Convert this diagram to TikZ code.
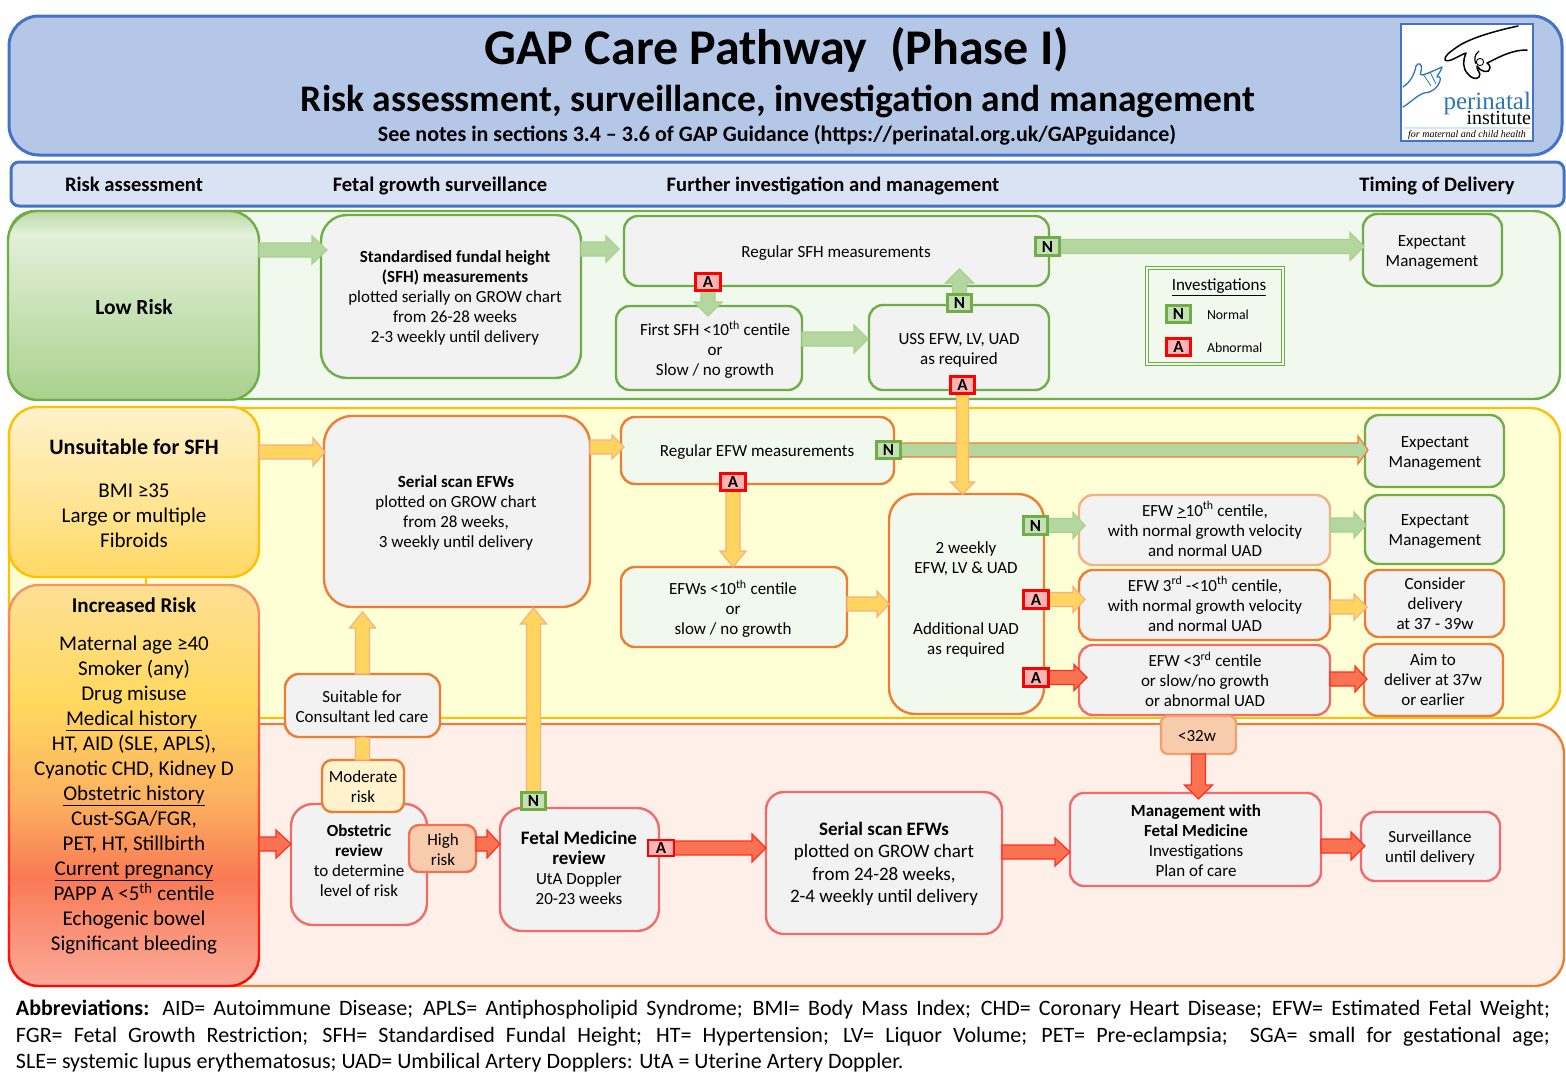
\documentclass[tikz,border=0pt]{standalone}
\usepackage{fontspec}
\setmainfont{Carlito}
\newfontfamily\logofont{Liberation Serif}
\usetikzlibrary{calc}
\pgfdeclarelayer{tagsLayer}
\pgfsetlayers{main,tagsLayer}
\definecolor{cBlue}{HTML}{4472C4}
\definecolor{cTitle}{HTML}{B4C7E7}
\definecolor{cHead}{HTML}{DAE3F3}
\definecolor{cGreen}{HTML}{70AD47}
\definecolor{cOrange}{HTML}{ED7D31}
\definecolor{cGold}{HTML}{FFC000}
\definecolor{cRose}{HTML}{F26B6B}
\definecolor{cPeach}{HTML}{F4B183}
\definecolor{cBoxGrey}{HTML}{F2F2F2}
\definecolor{cPaleGreen}{HTML}{F1F9EF}
\definecolor{cPaleYellow}{HTML}{FFFFD5}
\definecolor{cPaleOrange}{HTML}{FEF0E8}
\definecolor{cTagG}{HTML}{C5E0B4}
\definecolor{cTagR}{HTML}{FFB3B3}
\definecolor{cArrG}{HTML}{B4D7A0}
\definecolor{cArrGl}{HTML}{A9D18E}
\definecolor{cArrY}{HTML}{FFD55F}
\definecolor{cArrR}{HTML}{F97352}
\definecolor{cArrRl}{HTML}{FF3020}
\definecolor{cLogoBlue}{HTML}{2E75B6}
\definecolor{cModerate}{HTML}{FFF2CC}
\definecolor{cHigh}{HTML}{F8CBAD}
\definecolor{lrA}{HTML}{A9D18E}
\definecolor{lrB}{HTML}{E2F0D9}
\definecolor{lrC}{HTML}{BCD9A6}
\definecolor{usA}{HTML}{FFF2CC}
\definecolor{usB}{HTML}{FFD966}
\definecolor{irA}{HTML}{FDDF94}
\definecolor{irB}{HTML}{FFD95F}
\definecolor{irC}{HTML}{FCB060}
\definecolor{irD}{HTML}{F97A55}
\definecolor{irE}{HTML}{FBAA9A}
\definecolor{irTop}{HTML}{F89368}
\pgfdeclareverticalshading{lowriskshade}{100bp}{color(0bp)=(lrA); color(25bp)=(lrA); color(69bp)=(lrB); color(75bp)=(lrC); color(100bp)=(lrC)}
\pgfdeclareverticalshading{unsuitshade}{100bp}{color(0bp)=(usB); color(25bp)=(usB); color(75bp)=(usA); color(100bp)=(usA)}
\pgfdeclareverticalshading{incrshade}{100bp}{color(0bp)=(irE); color(25bp)=(irE); color(38.5bp)=(irD); color(48bp)=(irC); color(60.5bp)=(irB); color(75bp)=(irA); color(100bp)=(irA)}
\tikzset{
  x=1pt,y=-1pt,
  base/.style={draw,line width=2.4pt,inner sep=0pt,outer sep=0pt,rectangle},
  panel/.style={base,rounded corners=28pt},
  gbox/.style={base,fill=cBoxGrey,draw=cGreen,rounded corners=14pt},
  obox/.style={base,fill=cBoxGrey,draw=cOrange,rounded corners=14pt},
  rbox/.style={base,fill=cBoxGrey,draw=cRose,rounded corners=14pt},
  pobox/.style={base,fill=cPaleGreen,draw=cOrange,rounded corners=14pt},
  lab/.style={inner sep=0pt,outer sep=0pt,align=center,text=black,font=\lfont},
  tagbase/.style={draw,line width=2.6pt,minimum width=24.5pt,minimum height=17.5pt,inner sep=0pt,outer sep=0pt,font=\fontsize{17}{18}\selectfont\bfseries},
  ntag/.style={tagbase,draw=cGreen,fill=cTagG},
  atag/.style={tagbase,draw=red,fill=cTagR},
  ag/.style={draw=cArrGl,fill=cArrG,line width=1.2pt,line join=miter},
  ago/.style={draw=cOrange,fill=cArrG,line width=1.2pt,line join=miter},
  ay/.style={draw=cPeach,fill=cArrY,line width=1.2pt,line join=miter},
  ar/.style={draw=cArrRl,fill=cArrR,line width=1.2pt,line join=miter},
  plain/.style={inner sep=0pt,outer sep=0pt,align=center},
  hd/.style={plain,anchor=base,font=\fontsize{20.6}{23}\selectfont\bfseries},
}
\newcommand{\lfont}{\fontsize{17}{20}\selectfont}
\newcommand{\setlf}[2]{\renewcommand{\lfont}{\fontsize{#1}{#2}\selectfont}}
% box: style, name, (x1,y1)(x2,y2)(text cx,text cy){text}
\def\bx#1#2(#3,#4)(#5,#6)(#7,#8)#9{%
  \pgfmathsetmacro\bw{#5-#3}\pgfmathsetmacro\bh{#6-#4}%
  \pgfmathsetmacro\bcx{(#3+#5)/2}\pgfmathsetmacro\bcy{(#4+#6)/2}%
  \pgfmathsetmacro\bdx{#7-\bcx}\pgfmathsetmacro\bdy{\bcy-#8}%
  \node[#1,minimum width=\bw pt,minimum height=\bh pt,
    label={[lab,xshift=\bdx pt,yshift=\bdy pt]center:{#9}}] (#2) at (\bcx,\bcy) {};}
% block arrow: style, from, to, half shaft, half head, head length
\newcommand{\ba}[6]{%
  \coordinate (baS) at (#2); \coordinate (baT) at (#3);
  \coordinate (baN) at ($(baT)!#6pt!(baS)$);
  \draw[#1] ($(baS)!#4pt!90:(baT)$) -- ($(baN)!#4pt!90:(baT)$) -- ($(baN)!#5pt!90:(baT)$)
    -- (baT) -- ($(baN)!#5pt!-90:(baT)$) -- ($(baN)!#4pt!-90:(baT)$) -- ($(baS)!#4pt!-90:(baT)$) -- cycle;}
\begin{document}
\begin{tikzpicture}
\useasboundingbox (0,0) rectangle (1566,1087);
\fill[white] (0,0) rectangle (1566,1087);
% ---------- panels
\bx{panel,draw=cBlue,line width=3pt,fill=cTitle,rounded corners=30pt}{titlePanel}(9,16)(1562,155)(777,90){}
\bx{panel,draw=cBlue,line width=3pt,fill=cHead,rounded corners=8pt}{headBand}(11,162)(1564,206)(777,185){}
\bx{panel,draw=cGreen,fill=cPaleGreen,rounded corners=26pt}{lowPanel}(9,211)(1560,399)(777,300){}
\bx{panel,draw=cGold,fill=cPaleYellow,rounded corners=30pt}{midPanel}(9,408)(1560,718)(777,560){}
\bx{panel,draw=cOrange,fill=cPaleOrange,rounded corners=30pt}{highPanel}(9,724)(1564,986)(777,850){}
% ---------- title
\node[plain,font=\fontsize{50}{54}\selectfont\bfseries] (title) at (777,49.5) {GAP Care Pathway\ \ (Phase I)};
\node[plain,font=\fontsize{37.5}{40}\selectfont\bfseries] (subtitle) at (778,101.5) {Risk assessment, surveillance, investigation and management};
\node[plain,font=\fontsize{22}{24}\selectfont\bfseries] (notes) at (777,135) {See notes in sections 3.4 -- 3.6 of GAP Guidance (https://perinatal.org.uk/GAPguidance)};
% ---------- logo
\node[draw=cBlue,line width=2pt,fill=white,minimum width=132pt,minimum height=117pt,inner sep=0pt,outer sep=0pt] (logo) at (1467,82.5) {};
\draw[black,line width=1.5pt,line cap=round,line join=round] (1518,26) .. controls (1495,31) and (1470,38) .. (1457,47) .. controls (1450,52) and (1444,56) .. (1445,60) .. controls (1449,63) and (1458,56) .. (1466,53) .. controls (1463,60) and (1462,68) .. (1468,74) .. controls (1471,78) and (1476,80) .. (1479,77) .. controls (1482,72) and (1476,71) .. (1477,66) .. controls (1480,72) and (1490,74) .. (1490,68) .. controls (1490,64) and (1487,64) .. (1487,63) .. controls (1498,58) and (1510,50) .. (1527,50);
\draw[black,line width=1.2pt] (1479,51) .. controls (1474,55) and (1474,60) .. (1476,64);
\draw[black,line width=.9pt] (1480,62) circle (3.6pt);
\draw[cLogoBlue,line width=1.3pt,line cap=round,line join=round] (1403,87) .. controls (1410,82) and (1414,76) .. (1416,66) .. controls (1418,62) and (1423,63) .. (1421,71) .. controls (1420,74) and (1420,75) .. (1422,75) .. controls (1430,73) and (1437,69) .. (1442,67) .. controls (1441,72) and (1437,75) .. (1437,77) .. controls (1439,76) and (1441,77) .. (1440,81) .. controls (1438,88) and (1431,93) .. (1424,93) .. controls (1416,96) and (1410,103) .. (1403,107);
\draw[cLogoBlue,line width=.8pt] (1423,74) -- (1431,86) (1430,72) -- (1436,84);
\node[plain,text=cLogoBlue,font=\logofont\fontsize{25}{26}\selectfont,anchor=base east] (logoA) at (1531,109) {perinatal};
\node[plain,font=\logofont\fontsize{20}{21}\selectfont,anchor=base east] (logoB) at (1531,124) {institute};
\draw[cHead,line width=1.5pt] (1404,128) -- (1530,128);
\node[plain,font=\logofont\itshape\fontsize{10}{11}\selectfont] (logoC) at (1467,135) {for maternal and child health};
% ---------- band headers
\node[hd] (h1) at (134,191.5) {Risk assessment};
\node[hd] (h2) at (440,191.5) {Fetal growth surveillance};
\node[hd] (h3) at (833,191.5) {Further investigation and management};
\node[hd] (h4) at (1437,191.5) {Timing of Delivery};
% ---------- risk boxes
\setlf{21.5}{24}
\bx{base,draw=cGreen,shade,shading=lowriskshade,rounded corners=30pt}{lowRisk}(8,211)(259,400)(134,307){\textbf{Low Risk}}
\setlf{21}{25}
\bx{base,draw=cGold,shade,shading=unsuitshade,rounded corners=28pt}{unsuit}(9,407)(259,577)(134,493){{\fontsize{22}{25}\selectfont\textbf{Unsuitable for SFH}}\\[18pt]BMI \symbol{"2265}35\\Large or multiple\\Fibroids}
\bx{base,draw=none,shade,shading=incrshade,rounded corners=30pt}{incr}(9,585)(259,986)(134,776){\textbf{Increased Risk}\\[13pt]Maternal age \symbol{"2265}40\\Smoker (any)\\Drug misuse\\\underline{Medical history\ }\\HT, AID (SLE, APLS),\\Cyanotic CHD, Kidney D\\\underline{Obstetric history}\\Cust-SGA/FGR,\\PET, HT, Stillbirth\\\underline{Current pregnancy}\\PAPP A <5\textsuperscript{th} centile\\Echogenic bowel\\Significant bleeding}
% outline of Increased Risk: orange at the top fading to red at the foot
\foreach \k in {0,...,26}{
  \pgfmathsetmacro\sliceY{582+\k*16}
  \pgfmathsetmacro\mixv{min(100,100*\k/26)}
  \begin{scope}
    \clip (0,\sliceY) rectangle (270,\sliceY+16.5);
    \draw[line width=2.4pt,rounded corners=30pt,draw=red!\mixv!irTop] (incr.north west) rectangle (incr.south east);
  \end{scope}
}
\draw[cGold,line width=2pt] (unsuit.south -| 146,0) -- (incr.north -| 146,0);
\setlf{17}{20}
% ---------- green row
\bx{gbox,rounded corners=26pt}{sfh}(321,215)(581,378)(455,298){\textbf{Standardised fundal height}\\\textbf{(SFH) measurements}\\plotted serially on GROW chart\\from 26-28 weeks\\2-3 weekly until delivery}
\bx{gbox}{regSFH}(624,216)(1049,286)(836,253){Regular SFH measurements}
\bx{gbox}{firstSFH}(616,306)(802,390)(715,349.5){First SFH <10\textsuperscript{th} centile\\or\\Slow / no growth}
\bx{gbox}{uss}(869,305)(1049,390)(959,350){USS EFW, LV, UAD\\as required}
\bx{gbox}{exp1}(1363,214)(1502,286)(1432,253){Expectant\\Management}
% legend
\node[draw=cGreen,line width=.8pt,double=cPaleGreen,double distance=1.6pt,minimum width=136pt,minimum height=96pt,inner sep=0pt,outer sep=0pt,fill=cPaleGreen] (legend) at (1215,316) {};
\node[plain,font=\fontsize{17}{20}\selectfont] (legT) at (1219,287) {\underline{Investigations}};
\node[plain,font=\fontsize{13.8}{15}\selectfont,anchor=west] (legNt) at (1207,314.5) {Normal};
\node[plain,font=\fontsize{13.8}{15}\selectfont,anchor=west] (legAt) at (1207,348) {Abnormal};
% ---------- yellow row
\bx{obox,rounded corners=28pt}{serialA}(324,416)(590,607)(456,513){\textbf{Serial scan EFWs}\\plotted on GROW chart\\from 28 weeks,\\3 weekly until delivery}
\bx{pobox}{regEFW}(621,417)(894,484)(757,452){Regular EFW measurements}
\bx{pobox}{efwLow}(621,567)(847,647)(733,608.5){EFWs <10\textsuperscript{th} centile\\or\\slow / no growth}
\bx{pobox,rounded corners=26pt}{twoWk}(889,494)(1044,714)(966,599){2 weekly\\EFW, LV \& UAD\\[41pt]Additional UAD\\as required}
\bx{base,fill=cBoxGrey,draw=cPeach,rounded corners=14pt}{efwA}(1079,495)(1330,565)(1205,529){EFW \underline{>}10\textsuperscript{th} centile,\\with normal growth velocity\\and normal UAD}
\bx{obox}{efwB}(1079,570)(1330,640)(1205,604){EFW 3\textsuperscript{rd} -<10\textsuperscript{th} centile,\\with normal growth velocity\\and normal UAD}
\bx{rbox}{efwC}(1079,645)(1330,715)(1205,679.5){EFW <3\textsuperscript{rd} centile\\or slow/no growth\\or abnormal UAD}
\bx{gbox}{exp2}(1365,415)(1504,487)(1435,453.5){Expectant\\Management}
\bx{gbox}{exp3}(1365,495)(1504,564)(1435,531.5){Expectant\\Management}
\bx{obox}{consider}(1365,570)(1504,637)(1435,603.5){Consider\\delivery\\at 37 - 39w}
\bx{obox}{aim}(1364,644)(1503,716)(1433,679.5){Aim to\\deliver at 37w\\or earlier}
% ---------- red row
\bx{obox}{suitable}(285,674)(440,737)(362,707){Suitable for\\Consultant led care}
\bx{rbox,rounded corners=22pt}{obst}(291,804)(427,925)(359,860.5){\textbf{Obstetric}\\\textbf{review}\\to determine\\level of risk}
\bx{obox,fill=cModerate,rounded corners=10pt}{moderate}(322,760)(404,812)(363,787){Moderate\\risk}
\bx{base,fill=cHigh,draw=cRose!60!cOrange,rounded corners=10pt}{high}(409,825)(476,872)(443,850){High\\risk}
\bx{rbox,rounded corners=22pt}{fetalM}(500,808)(659,931)(579,867.5){{\fontsize{19}{20}\selectfont\textbf{Fetal Medicine}}\\{\fontsize{19}{20}\selectfont\textbf{review}}\\UtA Doppler\\20-23 weeks}
\setlf{19}{22.4}
\bx{rbox,rounded corners=18pt}{serialB}(766,792)(1002,934)(884,864){\textbf{Serial scan EFWs}\\plotted on GROW chart\\from 24-28 weeks,\\2-4 weekly until delivery}
\setlf{17}{20}
\bx{rbox}{mgmt}(1070,793)(1321,886)(1196,840.5){\textbf{Management with}\\\textbf{Fetal Medicine}\\Investigations\\Plan of care}
\bx{rbox}{surv}(1361,812)(1500,881)(1430,847.5){Surveillance\\until delivery}
\bx{base,fill=cHigh,draw=cPeach!70!cOrange,rounded corners=7pt}{lt32}(1161,716)(1236,754)(1197,736){<32w}
% ---------- tags (top layer)
\begin{pgfonlayer}{tagsLayer}
\node[ntag] (legN) at (1178.5,314) {N};
\node[atag] (legA) at (1178.5,347) {A};
\node[atag] (tA1) at (708,282) {A};
\node[ntag] (tN1) at (959.5,303) {N};
\node[ntag] (tN2) at (1047.5,246.5) {N};
\node[atag] (tA2) at (962.5,385) {A};
\node[ntag] (tN3) at (888.5,450) {N};
\node[atag] (tA3) at (733,482) {A};
\node[ntag] (tN4) at (1035.5,525.5) {N};
\node[atag] (tA4) at (1036,599.5) {A};
\node[atag] (tA5) at (1036,677.5) {A};
\node[ntag] (tN5) at (533.5,801) {N};
\node[atag,minimum width=26pt,minimum height=16pt] (tA6) at (661,848) {A};
\end{pgfonlayer}
% ---------- connectors
\ba{ag}{lowRisk.east |- 0,250}{$(sfh.west |- 0,250)+(6,0)$}{7}{14}{15}
\ba{ag}{sfh.east |- 0,249}{$(regSFH.west |- 0,249)+(-5,0)$}{7}{13}{13}
\ba{ag}{firstSFH.east |- 0,339}{$(uss.west |- 0,339)+(-1,0)$}{7}{14}{14}
\ba{ago}{tN3.east}{$(exp2.west |- tN3.east)+(3,0)$}{7}{14}{10}
\ba{ag}{tN2.east}{$(exp1.west |- tN2.east)+(1,0)$}{7}{14}{14}
\ba{ay}{unsuit.east |- 0,452}{$(serialA.west |- 0,452)+(1,0)$}{7}{14}{12}
\ba{ay}{serialA.east |- 0,447}{$(regEFW.west |- 0,447)+(3,0)$}{7}{12}{12}
\ba{ay}{tA2.south}{tA2.south |- twoWk.north}{6}{12}{12}
\ba{ag}{tA1.south}{$(tA1.south |- firstSFH.north)+(0,10)$}{7}{14}{14}
\ba{ag}{tN1.north}{$(tN1.north |- regSFH.south)+(0,-17)$}{7}{14}{14}
\ba{ay}{tA3.south}{tA3.south |- efwLow.north}{7}{13}{16}
\ba{ay}{efwLow.east |- 0,604}{twoWk.west |- 0,604}{7}{13}{12}
\ba{ag}{tN4.east}{$(efwA.west |- tN4.east)+(6,0)$}{7}{13}{12}
\ba{ay}{tA4.east}{$(efwB.west |- tA4.east)+(6,0)$}{7}{13}{12}
\ba{ar}{tA5.east}{$(efwC.west |- tA5.east)+(8,0)$}{7}{13}{13}
\ba{ag}{efwA.east |- 0,525}{$(exp3.west |- 0,525)+(1,0)$}{7}{13}{12}
\ba{ay}{efwB.east |- 0,607}{$(consider.west |- 0,607)+(2,0)$}{7}{13}{13}
\ba{ar}{efwC.east |- 0,679}{$(aim.west |- 0,679)+(3,0)$}{7}{13}{12}
\ba{ar}{lt32.south}{$(lt32.south |- mgmt.north)+(0,6)$}{7}{14}{14}
\ba{ar}{incr.east |- 0,844}{obst.west |- 0,844}{7}{14}{15}
\ba{ar}{high.east |- 0,844}{fetalM.west |- 0,844}{7}{14}{13}
\ba{ar}{tA6.east}{serialB.west |- tA6.east}{7}{14}{14}
\ba{ar}{serialB.east |- 0,852}{mgmt.west |- 0,852}{7}{14}{15}
\ba{ar}{mgmt.east |- 0,846}{$(surv.west |- 0,846)+(4,0)$}{7}{14}{14}
\ba{ay}{moderate.north -| suitable.south}{suitable.south}{7}{7}{1}
\ba{ay}{suitable.north}{$(suitable.north |- serialA.south)+(0,5)$}{7}{13}{16}
\ba{ay}{tN5.north}{$(tN5.north |- serialA.south)+(0,1)$}{7}{13}{16}
% ---------- abbreviations
\node[plain,anchor=north west,text width=1534pt,align=justify,font=\fontsize{22}{26.5}\selectfont] (abbr) at (16,1000.5) {\textbf{Abbreviations:} AID= Autoimmune Disease; APLS= Antiphospholipid Syndrome; BMI= Body Mass Index; CHD= Coronary Heart Disease; EFW= Estimated Fetal Weight;\linebreak FGR= Fetal Growth Restriction; SFH= Standardised Fundal Height; HT= Hypertension; LV= Liquor Volume; PET= Pre-eclampsia;\ \ SGA= small for gestational age;\linebreak SLE= systemic lupus erythematosus; UAD= Umbilical Artery Dopplers: UtA = Uterine Artery Doppler.};
\end{tikzpicture}
\end{document}
